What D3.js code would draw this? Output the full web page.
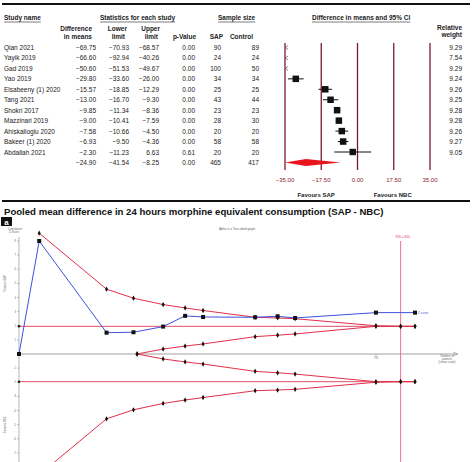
<!DOCTYPE html><html><head><meta charset="utf-8"><script src="https://cdn.jsdelivr.net/npm/d3@7"></script>
<style>body{margin:0;background:#fff}text{font-family:Arial,"Liberation Sans",sans-serif}</style></head><body>
<svg id="c" width="474" height="462"></svg>
<script>
const studies=["Qian 2021","Yayik 2019","Gad 2019","Yao 2019","Elsabeeny (1) 2020","Tang 2021","Shokri 2017","Mazzinari 2019","Ahiskalioglu 2020","Bakeer (1) 2020","Abdallah 2021"];
const diff=[-69.75,-66.60,-50.60,-29.80,-15.57,-13.00,-9.85,-9.00,-7.58,-6.93,-2.30];
const lower=[-70.93,-92.94,-51.53,-33.60,-18.85,-16.70,-11.34,-10.41,-10.66,-9.50,-11.23];
const upper=[-68.57,-40.26,-49.67,-26.00,-12.29,-9.30,-8.36,-7.59,-4.50,-4.36,6.63];
const pval=[0,0,0,0,0,0,0,0,0,0,0.61];
const sap=[90,24,100,34,25,43,23,28,20,58,20];
const ctrl=[89,24,50,34,25,44,23,30,20,58,20];
const weight=[9.29,7.54,9.29,9.24,9.26,9.25,9.28,9.28,9.26,9.27,9.05];
const pooled={diff:-24.90,lower:-41.54,upper:-8.25,p:0,sap:465,ctrl:417};
const forestTicks=[-35,-17.5,0,17.5,35];
// TSA data (patients, z)
const zCurve=[[0,0],[45,8],[195,1.51],[255,1.54],[321,1.94],[370,2.7],[410,2.62],[526,2.6],[576,2.67],[615,2.55],[795,2.93],[882,2.93]];
const upperB=[[45,8.55],[195,4.59],[255,3.95],[321,3.5],[370,3.26],[410,3.08],[526,2.6],[576,2.55],[615,2.5],[795,2.0],[850,1.96],[882,1.96]];
const futB=[[263,0],[321,0.35],[370,0.56],[410,0.71],[526,1.23],[576,1.33],[615,1.42],[795,1.96],[850,1.96],[882,1.96]];
const zTicks=[-7,-6,-5,-4,-3,-2,-1,1,2,3,4,5,6,7,8];

const svg=d3.select("#c");
function t(x,y,s,o={}){return svg.append("text").attr("x",x).attr("y",y).text(s).attr("font-size",o.fs||6.5).attr("font-weight",o.fw||"normal").attr("text-anchor",o.a||"start").attr("fill",o.c||"#222");}
svg.append("line").attr("x1",2).attr("x2",470).attr("y1",4).attr("y2",4).attr("stroke","#111").attr("stroke-width",2);
[["Study name",4],["Statistics for each study",100],["Sample size",218],["Difference in means and 95% CI",312]].forEach(([s,x])=>{const e=t(x,20,s,{fw:"bold",fs:6.5});const w=e.node().getComputedTextLength();svg.append("line").attr("x1",x).attr("x2",x+w).attr("y1",22).attr("y2",22).attr("stroke","#222").attr("stroke-width",0.6);});
t(92,31,"Difference",{fw:"bold",a:"end"});t(92,39,"in means",{fw:"bold",a:"end"});
t(127,31,"Lower",{fw:"bold",a:"end"});t(125,39,"limit",{fw:"bold",a:"end"});
t(160,31,"Upper",{fw:"bold",a:"end"});t(158,39,"limit",{fw:"bold",a:"end"});
t(196,39,"p-Value",{fw:"bold",a:"end"});t(223,39,"SAP",{fw:"bold",a:"end"});t(253,39,"Control",{fw:"bold",a:"end"});
t(462,30,"Relative",{fw:"bold",a:"end"});t(462,37,"weight",{fw:"bold",a:"end"});
const rowY=i=>50+10.45*i;
const fmt=d3.format(".2f");
studies.forEach((s,i)=>{const y=rowY(i);t(4,y,s);t(96,y,fmt(diff[i]),{a:"end"});t(129,y,fmt(lower[i]),{a:"end"});t(159,y,fmt(upper[i]),{a:"end"});t(195,y,fmt(pval[i]),{a:"end"});t(221,y,sap[i],{a:"end"});t(259,y,ctrl[i],{a:"end"});t(462,y,fmt(weight[i]),{a:"end"});});
{const y=rowY(11);t(96,y,fmt(pooled.diff),{a:"end"});t(129,y,fmt(pooled.lower),{a:"end"});t(159,y,fmt(pooled.upper),{a:"end"});t(195,y,fmt(pooled.p),{a:"end"});t(221,y,pooled.sap,{a:"end"});t(259,y,pooled.ctrl,{a:"end"});}
const xF=d3.scaleLinear().domain([-35,35]).range([285,430]);
forestTicks.forEach(v=>{svg.append("line").attr("x1",xF(v)).attr("x2",xF(v)).attr("y1",43).attr("y2",170).attr("stroke","#7a1a2a").attr("stroke-width",1.3);t(xF(v),182,fmt(v),{a:"middle",c:"#8b1a2a",fs:6});});
t(xF(-20),197,"Favours SAP",{fw:"bold",a:"middle",fs:6});t(xF(17),197,"Favours NBC",{fw:"bold",a:"middle",fs:6});
const cl=v=>Math.max(-35,Math.min(35,v));
studies.forEach((s,i)=>{const y=rowY(i)-2.5;
 if(upper[i]<-35){svg.append("path").attr("d",`M${xF(-35)+3},${y-2}L${xF(-35)+0.5},${y}L${xF(-35)+3},${y+2}`).attr("fill","none").attr("stroke","#333").attr("stroke-width",0.6);return;}
 svg.append("line").attr("x1",xF(cl(lower[i]))).attr("x2",xF(cl(upper[i]))).attr("y1",y).attr("y2",y).attr("stroke","#111").attr("stroke-width",1);
 const sz=6.5*Math.sqrt(weight[i]/9.29);svg.append("rect").attr("x",xF(diff[i])-sz/2).attr("y",y-sz/2).attr("width",sz).attr("height",sz).attr("fill","#111");});
{const y=rowY(11)-2.5;svg.append("path").attr("d",`M${xF(cl(pooled.lower))},${y}L${xF(pooled.diff)},${y-3.5}L${xF(pooled.upper)},${y}L${xF(pooled.diff)},${y+3.5}Z`).attr("fill","#e8141e");}
svg.append("line").attr("x1",2).attr("x2",470).attr("y1",201).attr("y2",201).attr("stroke","#111").attr("stroke-width",2);
t(4,215,"Pooled mean difference in 24 hours morphine equivalent consumption (SAP - NBC)",{fw:"bold",fs:9.6,c:"#111"});
svg.append("rect").attr("x",1).attr("y",217).attr("width",11).attr("height",9).attr("fill","#111");
t(6.5,224.5,"a",{fs:8,c:"#fff",a:"middle",fw:"bold"});
const xT=d3.scaleLinear().domain([0,882]).range([19,415]);
const yT=d3.scaleLinear().domain([0,8]).range([354,241]);
const g=svg.append("g");
g.append("line").attr("x1",19).attr("x2",19).attr("y1",yT(8.3)).attr("y2",462).attr("stroke","#888").attr("stroke-width",0.6);
g.append("line").attr("x1",19).attr("x2",457).attr("y1",yT(0)).attr("y2",yT(0)).attr("stroke","#888").attr("stroke-width",0.8);
g.append("path").attr("d",`M453,${yT(0)-2}L458,${yT(0)}L453,${yT(0)+2}`).attr("fill","none").attr("stroke","#888").attr("stroke-width",0.6);
zTicks.forEach(z=>{g.append("line").attr("x1",17).attr("x2",19).attr("y1",yT(z)).attr("y2",yT(z)).attr("stroke","#888").attr("stroke-width",0.5);t(16,yT(z)+1,z,{fs:2.6,a:"end",c:"#666"});});
t(8,230,"Cumulative",{fs:2.8,c:"#666"});t(9,233,"Z-Score",{fs:2.8,c:"#666"});
t(237,230,"Alpha is a Two-sided graph",{fs:3,a:"middle",c:"#666"});
t(447,357,"Number of",{fs:2.8,a:"middle",c:"#666"});t(447,360,"patients",{fs:2.8,a:"middle",c:"#666"});t(447,363,"(Linear scale)",{fs:2.8,a:"middle",c:"#666"});
svg.append("text").attr("transform",`translate(6,${yT(5)}) rotate(-90)`).attr("text-anchor","middle").attr("font-size",2.8).attr("fill","#666").text("Favours SAP");
svg.append("text").attr("transform",`translate(6,${yT(-5)}) rotate(-90)`).attr("text-anchor","middle").attr("font-size",2.8).attr("fill","#666").text("Favours NBC");
g.append("clipPath").attr("id","cp").append("rect").attr("x",0).attr("y",225).attr("width",474).attr("height",237);
[1.96,-1.96].forEach(z=>g.append("line").attr("x1",19).attr("x2",xT(882)).attr("y1",yT(z)).attr("y2",yT(z)).attr("stroke","#d82040").attr("stroke-width",0.8));
g.append("line").attr("x1",xT(850)).attr("x2",xT(850)).attr("y1",yT(8)).attr("y2",462).attr("stroke","#f06080").attr("stroke-width",0.9);
t(xT(850)+2,238,"RIS = 850",{fs:3.2,a:"middle",c:"#e04070"});
g.append("line").attr("x1",xT(795)).attr("x2",xT(795)).attr("y1",yT(0)).attr("y2",yT(0)+2).attr("stroke","#888").attr("stroke-width",0.5);
t(xT(795),yT(0)+5,"795",{fs:2.6,a:"middle",c:"#666"});
const ln=d3.line().x(d=>xT(d[0])).y(d=>yT(d[1]));
const lowerB=[[45,-8.55],...upperB.slice(1).map(d=>[d[0],-d[1]])];
const futL=futB.map(d=>[d[0],-d[1]]);
const cg=g.append("g").attr("clip-path","url(#cp)");
[upperB,lowerB,futB,futL].forEach(b=>{cg.append("path").attr("d",ln(b)).attr("fill","none").attr("stroke","#e0304a").attr("stroke-width",1);
 b.forEach(d=>cg.append("path").attr("d",d3.symbol(d3.symbolDiamond,8)()).attr("transform",`translate(${xT(d[0])},${yT(d[1])})`).attr("fill","#111"));});
g.append("path").attr("d",ln(zCurve)).attr("fill","none").attr("stroke","#4050e0").attr("stroke-width",1);
zCurve.forEach(d=>g.append("rect").attr("x",xT(d[0])-2).attr("y",yT(d[1])-2).attr("width",4).attr("height",4).attr("fill","#111"));
t(xT(882)+3,yT(2.93)+1,"Z-curve",{fs:3,c:"#4050e0"});
g.append("circle").attr("cx",19).attr("cy",yT(1.96)).attr("r",1.2).attr("fill","#111");
g.append("circle").attr("cx",19).attr("cy",yT(-1.96)).attr("r",1.2).attr("fill","#111");
</script></body></html>
